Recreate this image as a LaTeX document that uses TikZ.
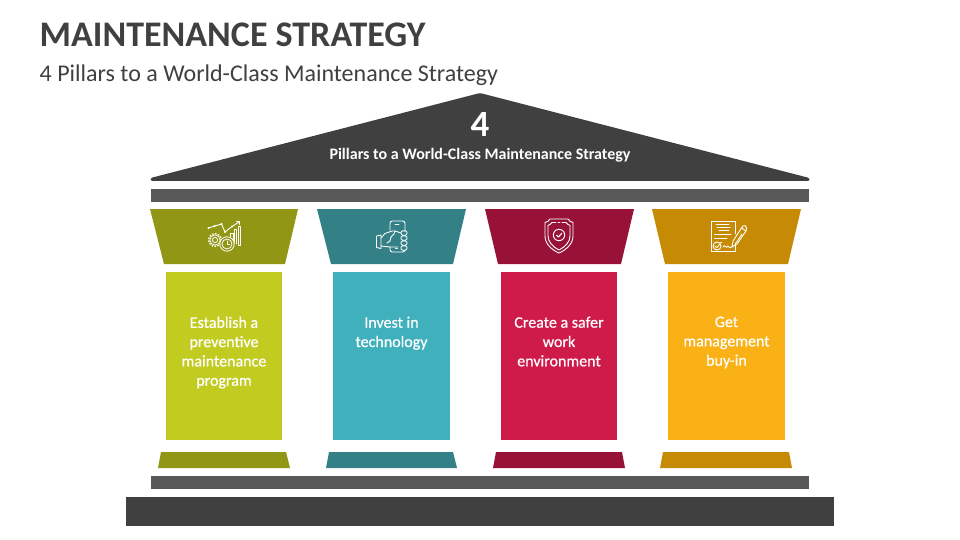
\documentclass[tikz,border=0pt]{standalone}
\usepackage{fontspec}
\setmainfont{Carlito}
\newfontfamily\medfont[FakeBold=0.6]{Carlito}
\definecolor{roof}{HTML}{404040}
\definecolor{bar}{HTML}{595959}
\definecolor{olive}{HTML}{929615}
\definecolor{lime}{HTML}{C2CB20}
\definecolor{tealD}{HTML}{338087}
\definecolor{tealL}{HTML}{3FB0BC}
\definecolor{maroon}{HTML}{981238}
\definecolor{crimson}{HTML}{CE1B4A}
\definecolor{goldD}{HTML}{C68A05}
\definecolor{amber}{HTML}{FAB116}
\tikzset{
  pillartext/.style={text=white,font=\medfont\fontsize{16}{19.3}\selectfont,align=center,anchor=north,inner sep=0pt},
  ico/.style={draw=white,line width=0.9pt,line join=round,line cap=round},
}
\begin{document}
\begin{tikzpicture}[x=1pt,y=-1pt]
\useasboundingbox (0,0) rectangle (960,540);
\fill[white] (0,0) rectangle (960,540);
\node[anchor=base west,inner sep=0pt,text=roof,font=\fontsize{36}{40}\selectfont\bfseries] (title) at (39.5,46.5) {MAINTENANCE STRATEGY};
\node[anchor=base west,inner sep=0pt,text=roof,font=\fontsize{24}{28}\selectfont] (subtitle) at (39.5,81.5) {4 Pillars to a World-Class Maintenance Strategy};
% roof
\fill[roof,rounded corners=1.5pt] (480,93) -- (809.5,178) -- (809.5,181) -- (150.5,181) -- (150.5,178) -- cycle;
\node[anchor=base,text=white,inner sep=0pt,font=\fontsize{37}{40}\selectfont\bfseries] (four) at (480,136.5) {4};
\node[anchor=base,text=white,inner sep=0pt,font=\fontsize{16}{18}\selectfont\bfseries] (rooftext) at (480,160) {Pillars to a World-Class Maintenance Strategy};
\fill[bar] (151,189) rectangle (809,202);
% capitals
\fill[olive] (150,209) -- (298,209) -- (285,264) -- (164,264) -- cycle;
\fill[tealD] (317,209) -- (466,209) -- (453,264) -- (331,264) -- cycle;
\fill[maroon] (485,209) -- (634,209) -- (621,264) -- (498,264) -- cycle;
\fill[goldD] (652,209) -- (801,209) -- (788,264) -- (665,264) -- cycle;
% shafts
\fill[lime] (166,272) rectangle (282,440);
\fill[tealL] (333,272) rectangle (450,440);
\fill[crimson] (501,272) rectangle (617,440);
\fill[amber] (668,272) rectangle (785,440);
\node[pillartext] (t1) at (224,316.5) {Establish a\\preventive\\maintenance\\program};
\node[pillartext] (t2) at (391.5,316.5) {Invest in\\technology};
\node[pillartext] (t3) at (559,316.5) {Create a safer\\work\\environment};
\node[pillartext] (t4) at (726.5,316.5) {Get\\management\\buy-in};
% bases
\fill[olive] (161,452) -- (286,452) -- (290,468) -- (158,468) -- cycle;
\fill[tealD] (329,452) -- (453,452) -- (457,468) -- (326,468) -- cycle;
\fill[maroon] (496,452) -- (622,452) -- (625,468) -- (493,468) -- cycle;
\fill[goldD] (663,452) -- (789,452) -- (792,468) -- (660,468) -- cycle;
\fill[bar] (151,476) rectangle (809,489);
\fill[roof] (126,497) rectangle (834,526);
% icon 1
\draw[ico] (208.5,228) -- (221.5,224) -- (225,232) -- (232,226.5) -- (239,222);
\draw[ico] (236.5,221.5) -- (239.5,221.5) -- (239.5,224.5);
\foreach \p in {(208.5,228),(214.5,226),(221.5,224),(225,232),(232,226.5)} \fill[white] \p circle (1.2);
\draw[ico,line width=0.8pt] (230,241) -- (230,233) -- (233,233) -- (233,243);
\draw[ico,line width=0.8pt] (234.5,244) -- (234.5,229.5) -- (236.5,229.5) -- (236.5,244);
\draw[ico,line width=0.8pt] (238,245) -- (238,226) -- (240,226) -- (240,245) -- cycle;
\draw[ico,line width=0.8pt] (215,240) circle (5.2);
\draw[ico,line width=0.8pt] (215,240) circle (2.6);
\draw[ico,dash pattern=on 1.5pt off 1.5pt,line width=1.3pt,line cap=butt] (215,240) circle (6.4);
\fill[olive] (227,244) circle (7.7);
\draw[ico,line width=0.8pt] (227,244) circle (7.2);
\draw[ico,line width=0.8pt] (227,244) circle (5);
\draw[ico,line width=0.8pt] (227,241) -- (227,244.5) -- (229.5,244.5);
% icon 2
\draw[ico] (390,230) -- (390,223.5) .. controls (390,222) and (391,221) .. (392.5,221) -- (402.5,221) .. controls (404,221) and (405,222) .. (405,223.5) -- (405,231);
\draw[ico] (405,250) .. controls (404.5,251.5) and (404,252) .. (402.5,252) -- (392.5,252) .. controls (391,252) and (390,251) .. (390,249.5) -- (390,247);
\draw[ico] (395,224) -- (399,224);
\draw[ico] (395.5,248.5) -- (397.5,248.5);
\draw[ico] (376.5,236) -- (381,235) -- (381,248.5) -- (376.5,247.5) -- cycle;
\draw[ico] (381,238) -- (385,233.5) -- (392,231) -- (395,231) .. controls (395.5,233) and (393,235) .. (391,237) -- (390,241) -- (387,243);
\draw[ico] (381,246) -- (390,247) -- (398,247);
\draw[ico] (395,231) -- (401,233);
\foreach \yy in {233,238,243,248} \draw[ico,rounded corners=1.5pt] (401,\yy-2.2) rectangle (407,\yy+2.2);
% icon 3
\draw[ico] (559,219) -- (550,219) .. controls (549,221) and (547,222) .. (545,222.5) -- (545,236) .. controls (545,244) and (552,250) .. (559,253) .. controls (566,250) and (573,244) .. (573,236) -- (573,222.5) .. controls (571,222) and (569,221) .. (568,219) -- cycle;
\draw[ico] (556,222.5) -- (552,222.5) .. controls (551,224) and (549.5,225) .. (548,225.5) -- (548,236) .. controls (548,242) and (553,247) .. (559,250) .. controls (565,247) and (570,242) .. (570,236) -- (570,225.5) .. controls (568.5,225) and (567,224) .. (566,222.5) -- (562,222.5);
\draw[ico] (558,222.5) -- (560,222.5);
\draw[ico] (559,235) circle (5.7);
\draw[ico,line width=1.1pt] (556.5,235.2) -- (558.4,237) -- (561.8,233.2);
% icon 4
\draw[ico] (735,234) -- (735,221) -- (711,221) -- (711,251.5) -- (735,251.5) -- (735,243);
\draw[ico] (716,224) -- (729,224);
\draw[ico,line width=1pt] (717,227) -- (730,227);
\draw[ico] (719,230) -- (729,230);
\draw[ico] (714.5,234) -- (731,234);
\draw[ico] (714.5,238) -- (727,238);
\draw[ico] (714.5,242) -- (722,242);
\fill[goldD] (717,246) circle (4.8);
\draw[ico] (717,246) circle (4);
\draw[ico] (715,246) -- (716.7,247.7) -- (719.7,244.2);
\draw[ico] (723,247) .. controls (725,243) and (726,250) .. (728,246) .. controls (729,248) and (730,248) .. (732,247);
\draw[ico] (732,247) -- (733,241) -- (741.5,228) -- (746,231) -- (737,244) -- cycle;
\draw[ico] (741.5,228) -- (743,226) .. controls (744,224.5) and (747,226) .. (746.5,228) -- (746,231);
\draw[ico] (742,234) -- (736,243);
\end{tikzpicture}
\end{document}
